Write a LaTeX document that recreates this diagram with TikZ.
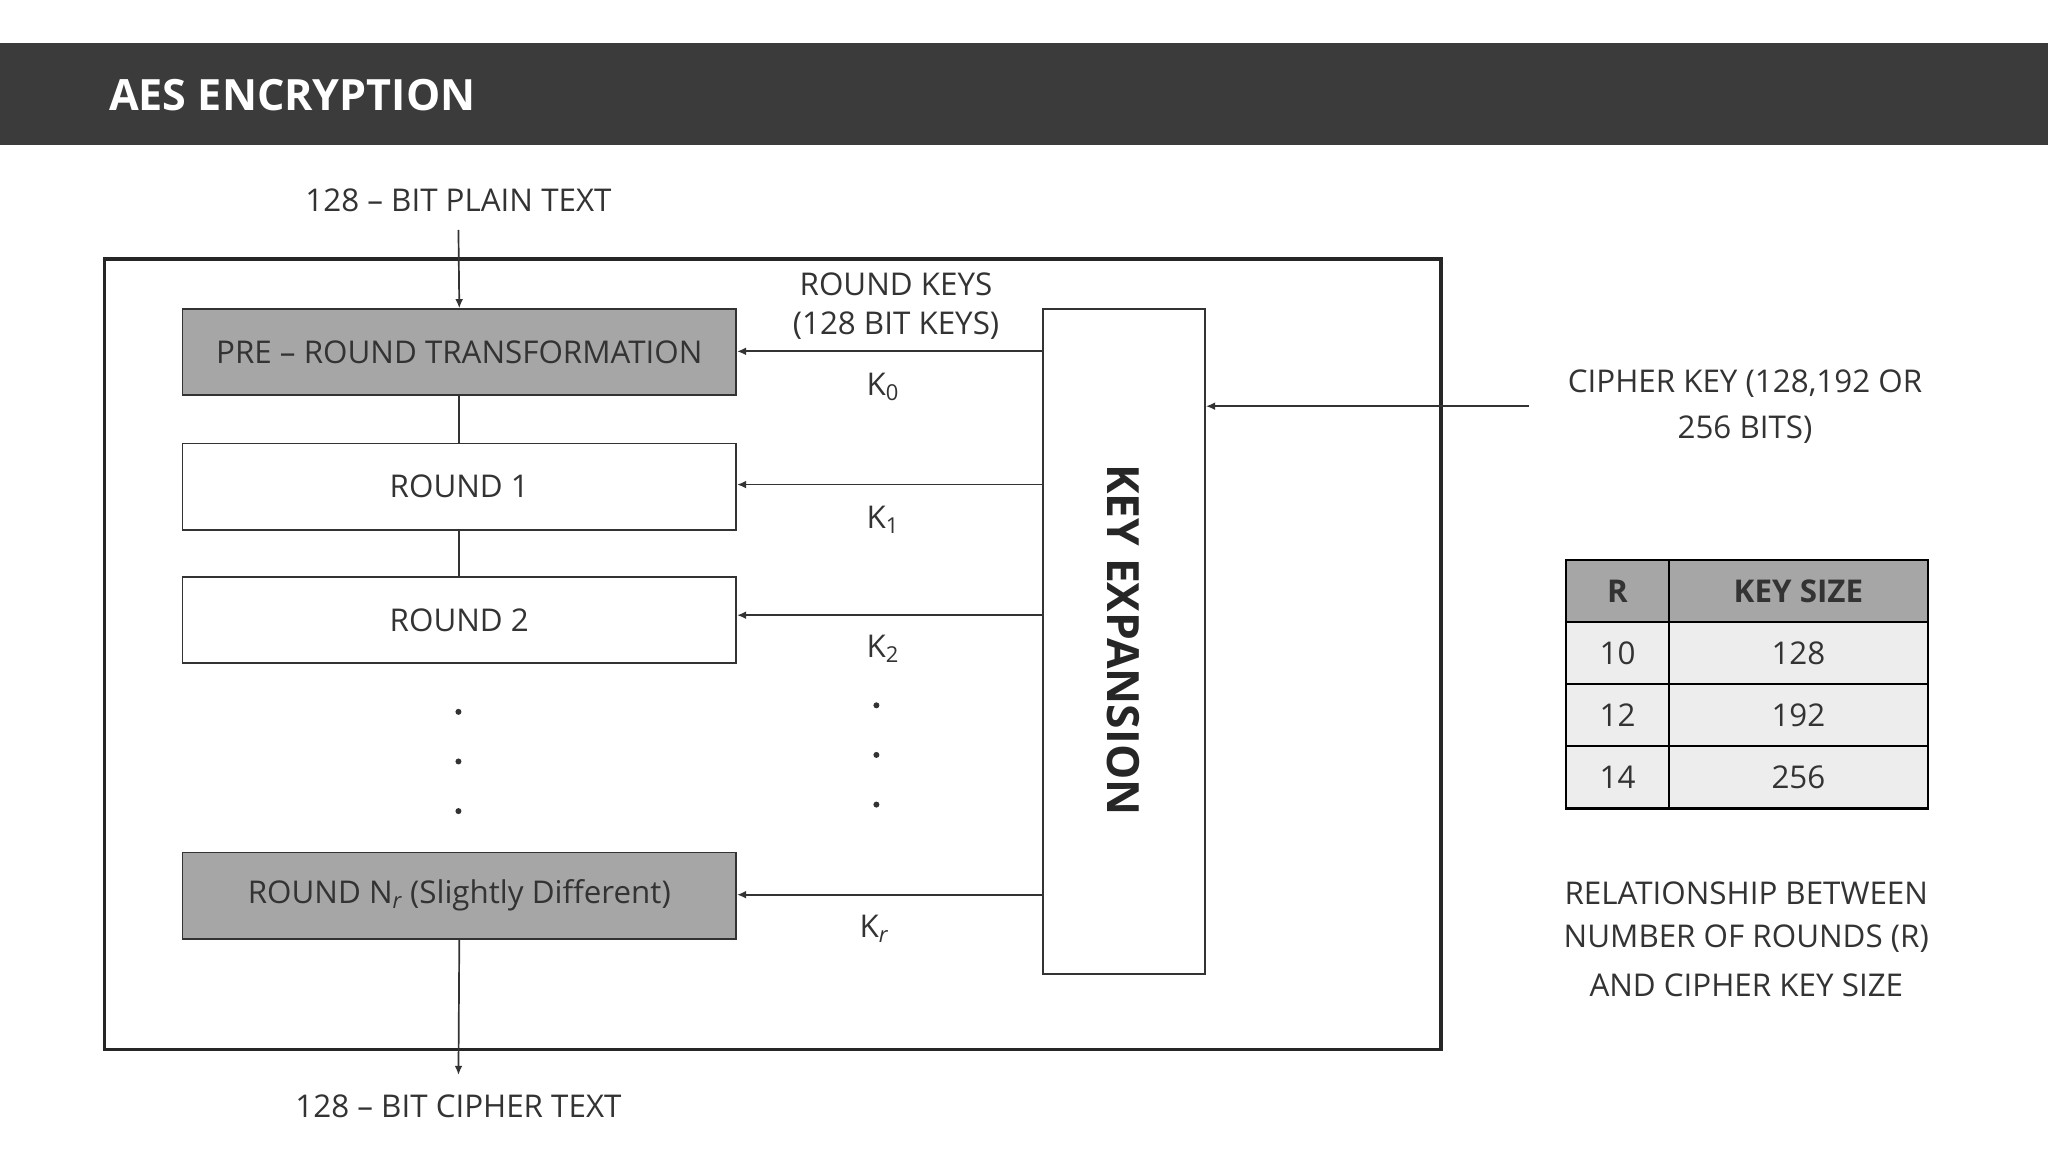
\documentclass[tikz,border=0pt]{standalone}
\usepackage{fontspec}
\setmainfont{Open Sans}
\begin{document}
\begin{tikzpicture}[x=1pt,y=-1pt,
  txt/.style={font=\fontsize{24}{28}\selectfont,text=black!80},
  rbox/.style={draw=black!80,line width=1.3pt,minimum width=424pt,minimum height=66pt,anchor=north west,inner sep=0pt,txt},
  gbox/.style={rbox,fill=black!35},
  arr/.style={draw=black!80,line width=1.3pt,-{Latex[length=7pt,width=6pt]}},
  ln/.style={draw=black!80,line width=1.3pt},
  cell/.style={draw=black,line width=1.8pt,anchor=north west,inner sep=0pt,minimum height=47.5pt,txt,fill=black!7}]
\usetikzlibrary{arrows.meta}
\useasboundingbox (0,0) rectangle (1568,882);
\fill[white] (0,0) rectangle (1568,882);
\fill[black!77] (0,33) rectangle (1568,111);
\node[anchor=west,text=white,font=\fontsize{33}{38}\selectfont\bfseries] (title) at (80,73) {AES ENCRYPTION};
\node[draw=black!85,line width=2.5pt,minimum width=1023pt,minimum height=605pt,anchor=north west,inner sep=0pt] (outer) at (79,197) {};
\node[gbox] (pre) at (139,236) {PRE -- ROUND TRANSFORMATION};
\node[rbox] (r1) at (139,339) {ROUND 1};
\node[rbox] (r2) at (139,441) {ROUND 2};
\node[gbox] (rn) at (139,652) {ROUND N\textsubscript{\itshape r} (Slightly Different)};
\node[draw=black!80,line width=1.3pt,minimum width=124pt,minimum height=509pt,anchor=north west,inner sep=0pt] (ke) at (798,236) {};
\node[rotate=-90,font=\fontsize{34}{38}\selectfont\bfseries,text=black!85] (ketxt) at (860,490) {KEY EXPANSION};
\node[txt] (pt) at (351,153) {128 -- BIT PLAIN TEXT};
\node[txt] (ct) at (351,847) {128 -- BIT CIPHER TEXT};
\coordinate (ptc) at (351,176);
\coordinate (ctc) at (351,823);
\draw[arr] (ptc) -- (pre.north);
\draw[ln] (pre.south) -- (r1.north);
\draw[ln] (r1.south) -- (r2.north);
\draw[arr] (rn.south) -- (ctc);
\draw[arr] (ke.west |- 0,269) -- (pre.east |- 0,269);
\draw[arr] (ke.west |- 0,371) -- (r1.east |- 0,371);
\draw[arr] (ke.west |- 0,471) -- (r2.east |- 0,471);
\draw[arr] (ke.west |- 0,685) -- (rn.east |- 0,685);
\node[txt] (rk1) at (686,218) {ROUND KEYS};
\node[txt] (rk2) at (686,249) {(128 BIT KEYS)};
\node[txt] (k0) at (676,296) {K\textsubscript{0}};
\node[txt] (k1) at (676,398) {K\textsubscript{1}};
\node[txt] (k2) at (676,497) {K\textsubscript{2}};
\node[txt] (kr) at (669,711) {K\textsubscript{\itshape r}};
\foreach \y [count=\i] in {545,583,621} \fill[black!80] (351,\y) circle (2.3pt);
\foreach \y [count=\i] in {540,578,616} \fill[black!80] (671,\y) circle (2.3pt);
\node[txt] (ck1) at (1336,294) {CIPHER KEY (128,192 OR};
\node[txt] (ck2) at (1336,329) {256 BITS)};
\coordinate (ckc) at (1171,311);
\draw[arr] (ckc) -- (ke.east |- 0,311);
\node[cell,fill=black!35,minimum width=79pt,font=\fontsize{24}{28}\selectfont\bfseries] (h1) at (1198,428) {R};
\node[cell,fill=black!35,minimum width=198pt,font=\fontsize{24}{28}\selectfont\bfseries] (h2) at (1277,428) {KEY SIZE};
\foreach \r/\k [count=\i] in {10/128,12/192,14/256}{
  \node[cell,minimum width=79pt] (a\i) at (1198,428+47.5*\i) {\r};
  \node[cell,minimum width=198pt] (b\i) at (1277,428+47.5*\i) {\k};
}
\node[txt] (c1) at (1337,684) {RELATIONSHIP BETWEEN};
\node[txt] (c2) at (1337,719) {NUMBER OF ROUNDS (R)};
\node[txt] (c3) at (1337,754) {AND CIPHER KEY SIZE};
\end{tikzpicture}
\end{document}
